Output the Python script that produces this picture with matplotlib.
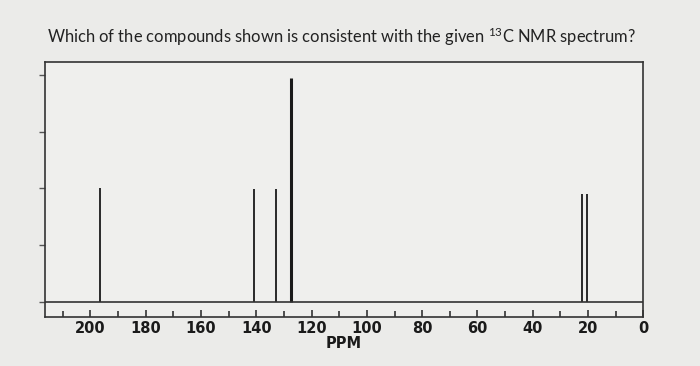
import matplotlib
matplotlib.use("Agg")
import matplotlib.pyplot as plt

# peak positions (ppm) and heights
ppm = [196.5, 141.0, 133.0, 127.5, 22.0, 20.5]
height = [2.0, 1.98, 1.98, 3.94, 1.9, 1.9]
widths = [1.3, 1.3, 1.3, 2.2, 1.3, 1.3]
tick_vals = [200, 180, 160, 140, 120, 100, 80, 60, 40, 20, 0]
minor_vals = [210, 190, 170, 150, 130, 110, 90, 70, 50, 30, 10]

narrow = ["DejaVu Sans Condensed", "Liberation Sans Narrow", "DejaVu Sans"]
bg = "#ebebe9"
fig = plt.figure(figsize=(7, 3.66), dpi=100, facecolor=bg)
ax = fig.add_axes([0.064, 0.134, 0.855, 0.697], facecolor="#efefed")

for p, h, w in zip(ppm, height, widths):
    ax.vlines(p, 0, h, color="#1a1a1a", lw=w)
ax.axhline(0, color="#333333", lw=1.2)

ax.set_xlim(216.5, 0)
ax.set_ylim(-0.27, 4.23)
for s in ax.spines.values():
    s.set_color("#333333")
    s.set_linewidth(1.2)

ax.set_xticks(tick_vals)
ax.set_xticks(minor_vals, minor=True)
ax.tick_params(axis="x", which="major", direction="in", length=5, width=1.2,
               color="#333333", pad=3)
ax.tick_params(axis="x", which="minor", direction="in", length=4, width=1.2,
               color="#333333")
ax.set_xticklabels([str(v) for v in tick_vals], fontsize=10.5,
                   fontweight="bold", family=narrow, color="#1a1a1a")
ax.set_xlabel("PPM", fontsize=10.5, fontweight="bold", family=narrow,
              color="#1a1a1a", labelpad=0)

ax.set_yticks([0, 1, 2, 3, 4])
ax.set_yticklabels([])
ax.tick_params(axis="y", direction="out", length=4, width=1.0, color="#555555")

fig.text(0.067, 0.9, r"Which of the compounds shown is consistent with the given $\mathregular{^{13}}$C NMR spectrum?",
         fontsize=11.9, family=["Lato", "DejaVu Sans"], color="#222222",
         ha="left", va="center")

fig.savefig("out.png", dpi=100, facecolor=bg)
